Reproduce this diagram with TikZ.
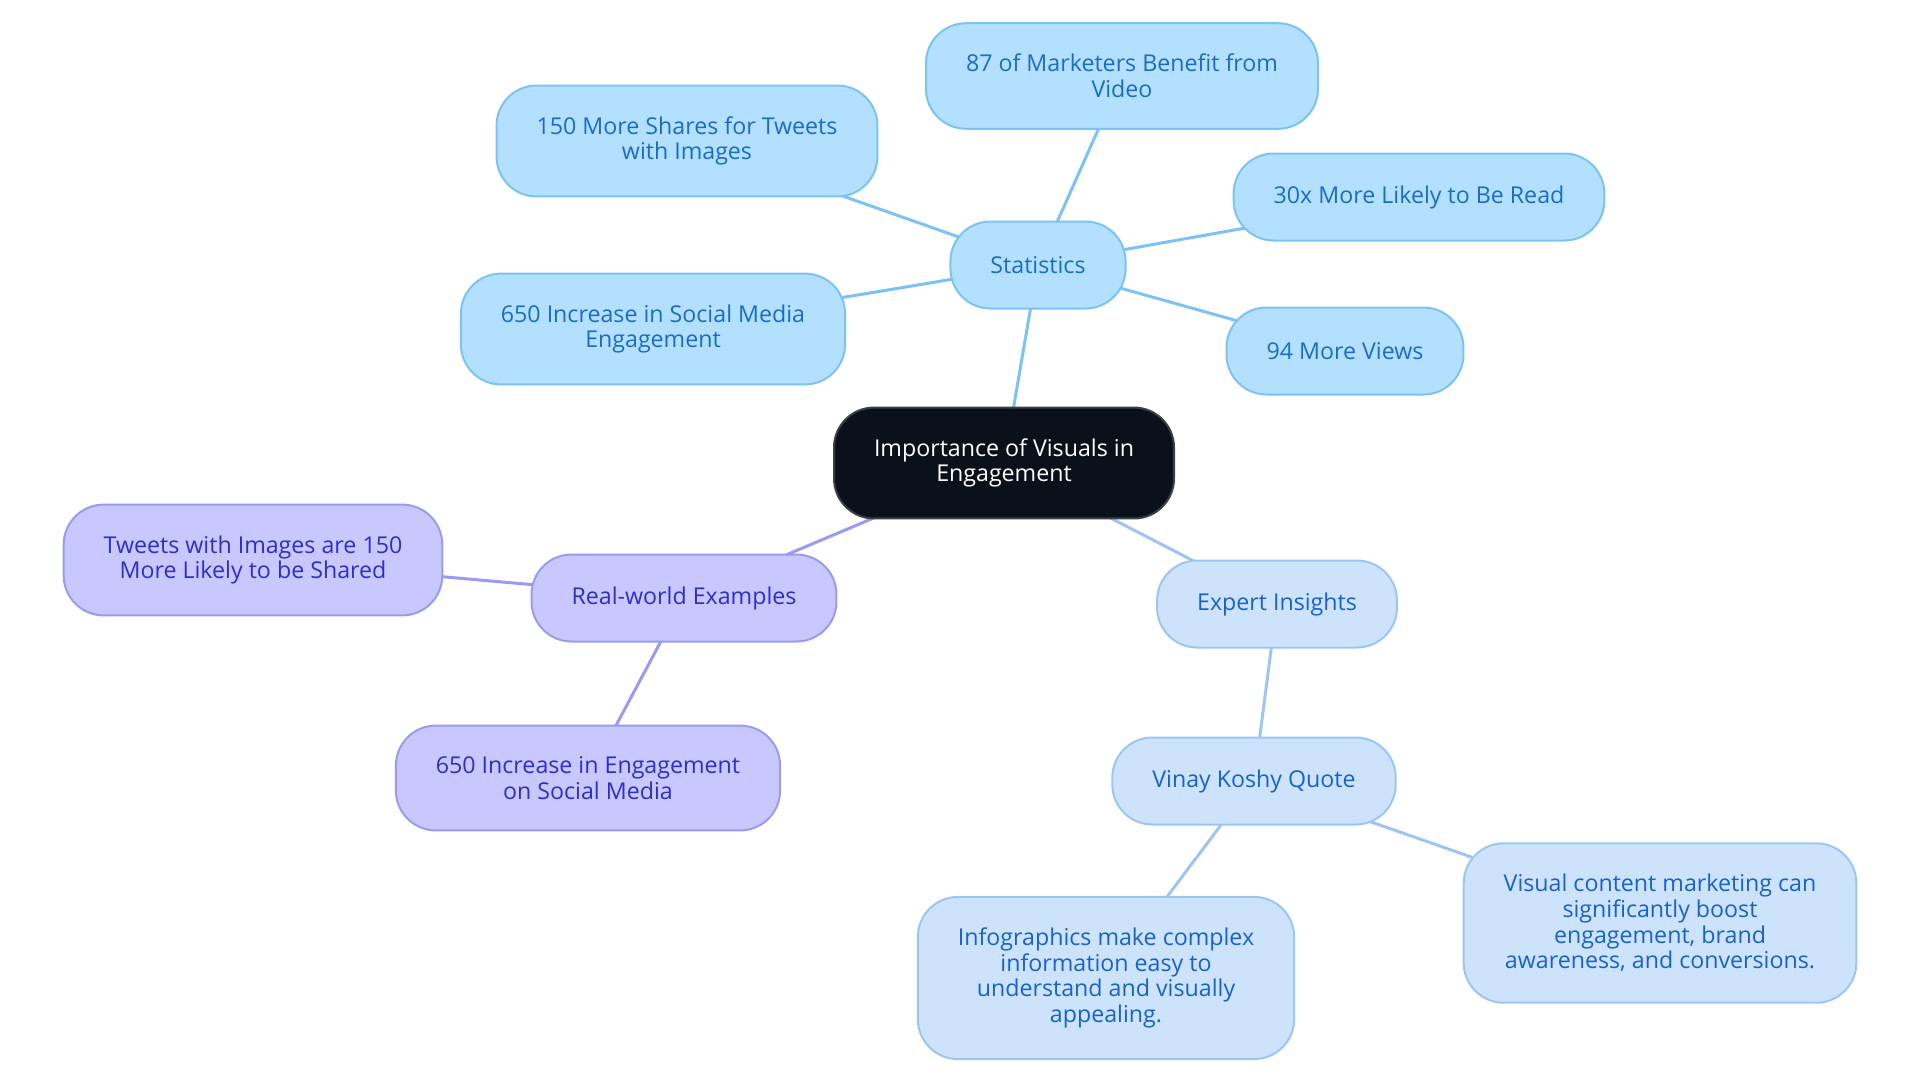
\documentclass[tikz,border=0pt]{standalone}
\usepackage{fontspec}
\setmainfont{Open Sans}
\usepackage{tikz}
\usetikzlibrary{backgrounds}

\definecolor{rootfill}{HTML}{0B111A}
\definecolor{rootline}{HTML}{3C4148}
\definecolor{statfill}{HTML}{B3E0FF}
\definecolor{statline}{HTML}{7CC2F2}
\definecolor{stattext}{HTML}{1A6CC6}
\definecolor{realfill}{HTML}{C8C8FE}
\definecolor{realline}{HTML}{9A9AF0}
\definecolor{realtext}{HTML}{2E2EC8}
\definecolor{expfill}{HTML}{CDE3FB}
\definecolor{expline}{HTML}{9CC5F2}
\definecolor{exptext}{HTML}{1862CC}

\begin{document}
\begin{tikzpicture}[x=0.5pt,y=-0.5pt,
        box/.style={rounded corners=20pt,line width=1pt,align=center,
            inner xsep=20pt,inner ysep=15.5pt,minimum height=43.5pt,
            font=\fontsize{11.6}{12.8}\selectfont},
        rootbox/.style={box,fill=rootfill,draw=rootline,text=white},
        statbox/.style={box,fill=statfill,draw=statline,text=stattext},
        realbox/.style={box,fill=realfill,draw=realline,text=realtext},
        expbox/.style={box,fill=expfill,draw=expline,text=exptext},
        statlink/.style={draw=statline,line width=1.5pt},
        reallink/.style={draw=realline,line width=1.5pt},
        explink/.style={draw=expline,line width=1.5pt}]
    \useasboundingbox (0,0) rectangle (1920,1083);
    % centre
    \node[rootbox] (root) at (1004,463) {Importance of Visuals in\\Engagement};
    % statistics branch
    \node[statbox] (stats) at (1038,265) {Statistics};
    \node[statbox] (marketers) at (1122,76) {87 of Marketers Benefit from\\Video};
    \node[statbox] (shares) at (687,141) {150 More Shares for Tweets\\with Images};
    \node[statbox] (likely) at (1419,197) {30x More Likely to Be Read};
    \node[statbox] (social) at (653,329) {650 Increase in Social Media\\Engagement};
    \node[statbox] (views) at (1345,351) {94 More Views};
    % real-world branch
    \node[realbox] (examples) at (684,598) {Real-world Examples};
    \node[realbox] (tweets) at (253,560) {Tweets with Images are 150\\More Likely to be Shared};
    \node[realbox] (engage) at (588,778) {650 Increase in Engagement\\on Social Media};
    % expert branch
    \node[expbox] (expert) at (1277,604) {Expert Insights};
    \node[expbox] (vinay) at (1254,781) {Vinay Koshy Quote};
    \node[expbox] (infographics) at (1106,978) {Infographics make complex\\information easy to\\understand and visually\\appealing.};
    \node[expbox] (visual) at (1660,923) {Visual content marketing can\\significantly boost\\engagement, brand\\awareness, and conversions.};

    % links go behind the boxes
    \begin{pgfonlayer}{background}
    \draw[statlink] (root.center) -- (stats.center)
        (stats.center) -- (marketers.center)
        (stats.center) -- (shares.center)
        (stats.center) -- (likely.center)
        (stats.center) -- (social.center)
        (stats.center) -- (views.center);
    \draw[reallink] (root.center) -- (examples.center)
        (examples.center) -- (tweets.center)
        (examples.center) -- (engage.center);
    \draw[explink] (root.center) -- (expert.center)
        (expert.center) -- (vinay.center)
        (vinay.center) -- (infographics.center)
        (vinay.center) -- (visual.center);
    \end{pgfonlayer}
\end{tikzpicture}
\end{document}
